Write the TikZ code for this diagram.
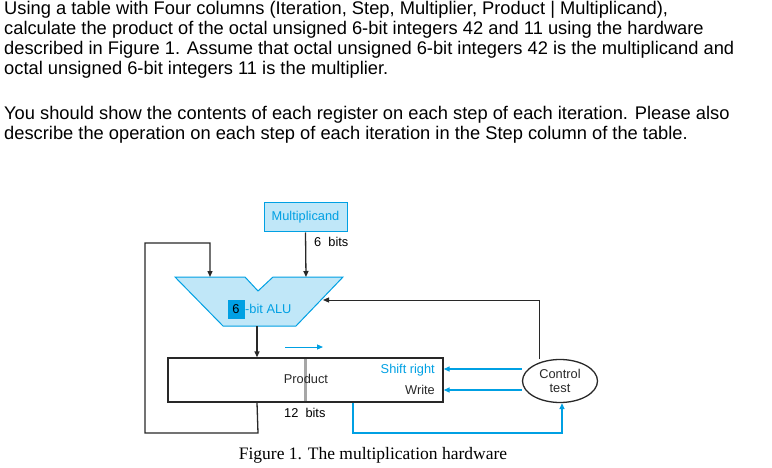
\documentclass[tikz,border=0pt]{standalone}
\usepackage{fontspec}
\setmainfont{Liberation Sans}
\newfontfamily\capfont{Liberation Serif}
\usetikzlibrary{arrows.meta,shapes.geometric}
\definecolor{cy}{RGB}{0,160,227}
\definecolor{cyf}{RGB}{192,231,248}
\definecolor{dk}{RGB}{40,40,40}
\begin{document}
\begin{tikzpicture}[x=1pt,y=-1pt,
  blk/.style={draw=dk,line width=1.3pt},
  bl/.style={draw=cy,line width=1.3pt},
  arr/.style={-{Triangle[length=6pt,width=5pt]}},
  lab/.style={font=\fontsize{12.8}{13}\selectfont,inner sep=0pt}]
\useasboundingbox (0,0) rectangle (772,468);
\node[anchor=north west,align=left,inner sep=0pt,font=\fontsize{18.3}{20}\selectfont] (q1) at (4,1)
 {Using a table with Four columns (Iteration, Step, Multiplier, Product | Multiplicand),\\
 calculate the product of the octal unsigned 6-bit integers 42 and 11 using the hardware\\
 described in Figure 1. Assume that octal unsigned 6-bit integers 42 is the multiplicand and\\
 octal unsigned 6-bit integers 11 is the multiplier.};
\node[anchor=north west,align=left,inner sep=0pt,font=\fontsize{18.3}{20}\selectfont] (q2) at (4,106)
 {You should show the contents of each register on each step of each iteration. Please also\\
 describe the operation on each step of each iteration in the Step column of the table.};
% multiplicand
\node[draw=cy,fill=cyf,line width=1pt,minimum width=83pt,minimum height=29pt,inner sep=0pt,text=cy,lab] (mc) at (305.5,217.5) {Multiplicand};
% ALU
\draw[bl,fill=cyf,line width=1pt] (175,277) -- (245,277) -- (258,291) -- (273,277) -- (343,277) -- (296,326) -- (223,326) -- cycle;
\coordinate (aluin1) at (210,277);
\coordinate (aluin2) at (306,277);
\coordinate (aluside) at (323,300);
\coordinate (aluout) at (257,326);
\node[fill=cy,minimum width=17pt,minimum height=19pt,inner sep=0pt,lab] (six) at (236,309) {6};
\node[anchor=west,text=cy,lab] (alul) at (245,309) {-bit ALU};
% product
\node[draw=dk,line width=1.3pt,minimum width=275pt,minimum height=44pt,inner sep=0pt] (prod) at (305.5,380) {};
\draw[gray!70,line width=3pt] (305,359) -- (305,401);
\node[lab,text=dk,inner sep=0pt] (pl) at (306,379) {Product};
\node[lab,anchor=east,text=cy] (sr) at (435,370) {Shift right};
\node[lab,anchor=east,text=dk] (wr) at (435,390) {Write};
\draw[bl,line width=1pt,arr] (285,347) -- (323,347);
% control
\node[draw=dk,line width=1.3pt,ellipse,minimum width=75pt,minimum height=43pt,inner sep=0pt,align=center,lab,text=dk] (ct) at (560,381) {Control\\[1pt]test};
% arrows
\draw[blk,arr] (mc.south) -- (aluin2);
\node[lab,anchor=west] (b6) at (314,242) {6\ \ bits};
\draw[blk,arr] (prod.south -| aluout) -- (258,433) -- (145,433) -- (145,243) -- (210,243) -- (aluin1);
\draw[blk,arr] (aluout) -- (aluout |- prod.north);
\draw[blk,line width=1pt,arr] (ct.north -| 539,0) -- (539,300) -- (aluside);
\draw[bl,arr] (ct.west |- 0,369) -- (prod.east |- 0,369);
\draw[bl,arr] (ct.west |- 0,390) -- (prod.east |- 0,390);
\draw[bl,arr] (prod.south -| 353,0) -- (353,433) -- (562,433) -- (ct.south -| 562,0);
\node[lab,anchor=west] (b12) at (284,413) {12\ \ bits};
\node[font=\capfont\fontsize{17.5}{18}\selectfont,inner sep=0pt] (cap) at (373,455) {Figure 1. The multiplication hardware};
\end{tikzpicture}
\end{document}
